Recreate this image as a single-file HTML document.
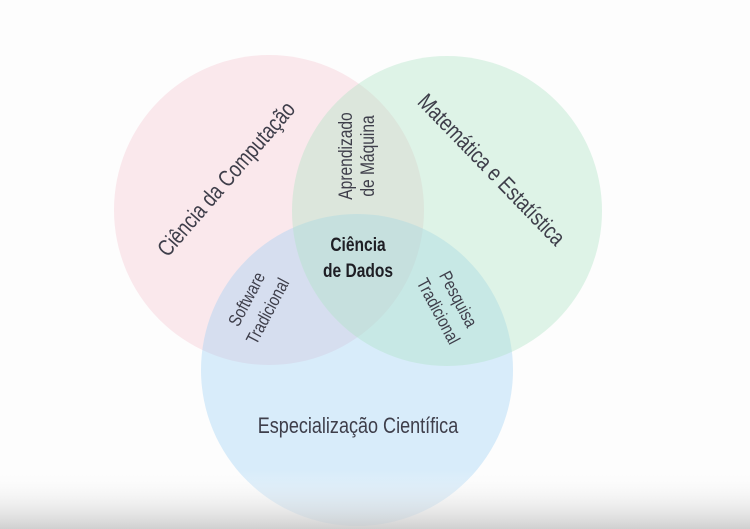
<!DOCTYPE html>
<html><head><meta charset="utf-8"><style>
html,body{margin:0;padding:0;width:750px;height:529px;overflow:hidden;background:#fff}
svg{display:block}
text{font-family:"Liberation Sans",sans-serif;fill:#3e3e4a}
</style></head><body>
<svg width="750" height="529" viewBox="0 0 750 529">
<defs>
<linearGradient id="bg" x1="0" y1="0" x2="0" y2="1">
<stop offset="0" stop-color="#fff" stop-opacity="0"/>
<stop offset="1" stop-color="#c8c8c8" stop-opacity="0.85"/>
</linearGradient>
</defs>
<rect width="750" height="529" fill="#fdfdfd"/>
<circle cx="269" cy="210" r="155" fill="rgb(246,185,200)" fill-opacity="0.3"/>
<circle cx="357" cy="370" r="156" fill="rgb(150,205,245)" fill-opacity="0.36"/>
<circle cx="447" cy="211" r="155" fill="rgb(175,228,198)" fill-opacity="0.4"/>
<rect x="0" y="470" width="750" height="59" fill="url(#bg)"/>
<text x="0" y="0" font-size="23" text-anchor="middle" transform="translate(232,184) rotate(-49) scale(0.8,1)">Ciência da Computação</text>
<text x="0" y="0" font-size="23" text-anchor="middle" transform="translate(486,175) rotate(46) scale(0.8,1)">Matemática e Estatística</text>
<text x="0" y="0" font-size="19" text-anchor="middle" transform="translate(352,156) rotate(-90) scale(0.82,1)">Aprendizado</text>
<text x="0" y="0" font-size="19" text-anchor="middle" transform="translate(374,156) rotate(-90) scale(0.82,1)">de Máquina</text>
<text x="0" y="0" font-size="19" font-weight="bold" text-anchor="middle" transform="translate(358,251) scale(0.82,1)" style="fill:#1e1e24">Ciência</text>
<text x="0" y="0" font-size="19" font-weight="bold" text-anchor="middle" transform="translate(358,277) scale(0.82,1)" style="fill:#1e1e24">de Dados</text>
<text x="0" y="0" font-size="18" text-anchor="middle" transform="translate(252,302) rotate(-62) scale(0.82,1)">Software</text>
<text x="0" y="0" font-size="18" text-anchor="middle" transform="translate(273,314) rotate(-62) scale(0.82,1)">Tradicional</text>
<text x="0" y="0" font-size="18" text-anchor="middle" transform="translate(453,302) rotate(62) scale(0.82,1)">Pesquisa</text>
<text x="0" y="0" font-size="18" text-anchor="middle" transform="translate(433,314) rotate(62) scale(0.82,1)">Tradicional</text>
<text x="0" y="0" font-size="22" text-anchor="middle" transform="translate(358,433) scale(0.82,1)">Especialização Científica</text>
</svg>
</body></html>
